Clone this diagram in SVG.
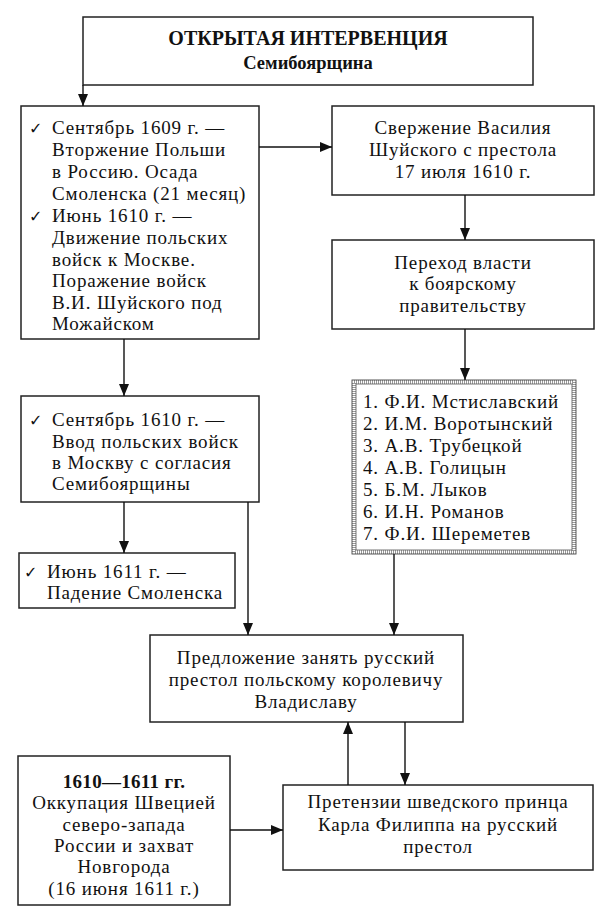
<svg xmlns="http://www.w3.org/2000/svg" width="610" height="921" viewBox="0 0 610 921">
<defs>
<marker id="ah" viewBox="0 0 12 10" refX="12" refY="5" markerWidth="12" markerHeight="10" markerUnits="userSpaceOnUse" orient="auto">
<path d="M0,0 L12,5 L0,10 Z" fill="#111"/>
</marker>
</defs>
<style>
.box{fill:#fff;stroke:#222;stroke-width:1.5}
.t{font-family:"Liberation Serif","Times New Roman",serif;font-size:19px;letter-spacing:0.85px;fill:#111}
.c{text-anchor:middle}
.b{font-weight:bold}
.ck{font-family:"DejaVu Sans",sans-serif;font-size:16px;fill:#111}
.ln{fill:none;stroke:#111;stroke-width:1.4;marker-end:url(#ah)}
</style>
<rect width="610" height="921" fill="#fff"/>
<g id="title">
<rect class="box" x="83" y="17" width="450" height="68"/>
<text class="t c b" x="308" y="45" style="font-size:20px;letter-spacing:0">ОТКРЫТАЯ ИНТЕРВЕНЦИЯ<tspan x="308" dy="24" style="font-size:18.5px">Семибоярщина</tspan></text>
</g>
<g id="n1609">
<rect class="box" x="21" y="106" width="238" height="233"/>
<text class="ck" x="29" y="134">✓</text>
<text class="ck" x="29" y="222">✓</text>
<text class="t" x="52" y="134">Сентябрь 1609 г. —<tspan x="52" dy="22">Вторжение Польши</tspan><tspan x="52" dy="22">в Россию. Осада</tspan><tspan x="52" dy="22">Смоленска (21 месяц)</tspan><tspan x="52" dy="22">Июнь 1610 г. —</tspan><tspan x="52" dy="22">Движение польских</tspan><tspan x="52" dy="21.5">войск к Москве.</tspan><tspan x="52" dy="21.5">Поражение войск</tspan><tspan x="52" dy="21.5">В.И. Шуйского под</tspan><tspan x="52" dy="21.5">Можайском</tspan></text>
</g>
<g id="overthrow">
<rect class="box" x="332" y="106" width="262" height="89"/>
<text class="t c" x="463" y="134">Свержение Василия<tspan x="463" dy="22">Шуйского с престола</tspan><tspan x="463" dy="22">17 июля 1610 г.</tspan></text>
</g>
<g id="power">
<rect class="box" x="332" y="240" width="262" height="89"/>
<text class="t c" x="463" y="269">Переход власти<tspan x="463" dy="21.3">к боярскому</tspan><tspan x="463" dy="21.3">правительству</tspan></text>
</g>
<g id="boyars">
<rect x="354" y="382" width="220" height="170" fill="#fff" stroke="#999" stroke-width="4" stroke-dasharray="1 1"/>
<rect x="352" y="380" width="224" height="174" fill="none" stroke="#444" stroke-width="0.9"/>
<rect x="356" y="384" width="216" height="166" fill="none" stroke="#666" stroke-width="0.9"/>
<text class="t" x="363" y="408">1. Ф.И. Мстиславский<tspan x="363" dy="22">2. И.М. Воротынский</tspan><tspan x="363" dy="22">3. А.В. Трубецкой</tspan><tspan x="363" dy="22">4. А.В. Голицын</tspan><tspan x="363" dy="22">5. Б.М. Лыков</tspan><tspan x="363" dy="22">6. И.Н. Романов</tspan><tspan x="363" dy="22">7. Ф.И. Шереметев</tspan></text>
</g>
<g id="n1610">
<rect class="box" x="21" y="396" width="238" height="106"/>
<text class="ck" x="29" y="426">✓</text>
<text class="t" x="52" y="426">Сентябрь 1610 г. —<tspan x="52" dy="21.5">Ввод польских войск</tspan><tspan x="52" dy="21.3">в Москву с согласия</tspan><tspan x="52" dy="21.3">Семибоярщины</tspan></text>
</g>
<g id="n1611">
<rect class="box" x="19" y="553" width="216" height="55"/>
<text class="ck" x="24" y="578">✓</text>
<text class="t" x="47" y="578">Июнь 1611 г. —<tspan x="47" dy="21.3">Падение Смоленска</tspan></text>
</g>
<g id="offer">
<rect class="box" x="150" y="635" width="313" height="87"/>
<text class="t c" x="306" y="664">Предложение занять русский<tspan x="306" dy="22">престол польскому королевичу</tspan><tspan x="306" dy="22">Владиславу</tspan></text>
</g>
<g id="sweden">
<rect class="box" x="18" y="756" width="212" height="149"/>
<text class="t c" x="124" y="788"><tspan class="b" style="letter-spacing:0.3px">1610—1611 гг.</tspan><tspan x="124" dy="21.3">Оккупация Швецией</tspan><tspan x="124" dy="21.3">северо-запада</tspan><tspan x="124" dy="21.3">России и захват</tspan><tspan x="124" dy="21.3">Новгорода</tspan><tspan x="124" dy="21.3">(16 июня 1611 г.)</tspan></text>
</g>
<g id="claims">
<rect class="box" x="283" y="785" width="310" height="85"/>
<text class="t c" x="438" y="808">Претензии шведского принца<tspan x="438" dy="23">Карла Филиппа на русский</tspan><tspan x="438" dy="22">престол</tspan></text>
</g>
<g id="connectors">
<path class="ln" d="M83,85 V106"/>
<path class="ln" d="M259,147 H332"/>
<path class="ln" d="M465,195 V240"/>
<path class="ln" d="M465,329 V380"/>
<path class="ln" d="M124,339 V396"/>
<path class="ln" d="M124,502 V553"/>
<path class="ln" d="M248,502 V635"/>
<path class="ln" d="M394,554 V635"/>
<path class="ln" d="M348,785 V722"/>
<path class="ln" d="M405,722 V785"/>
<path class="ln" d="M230,830 H283"/>
</g>
</svg>
